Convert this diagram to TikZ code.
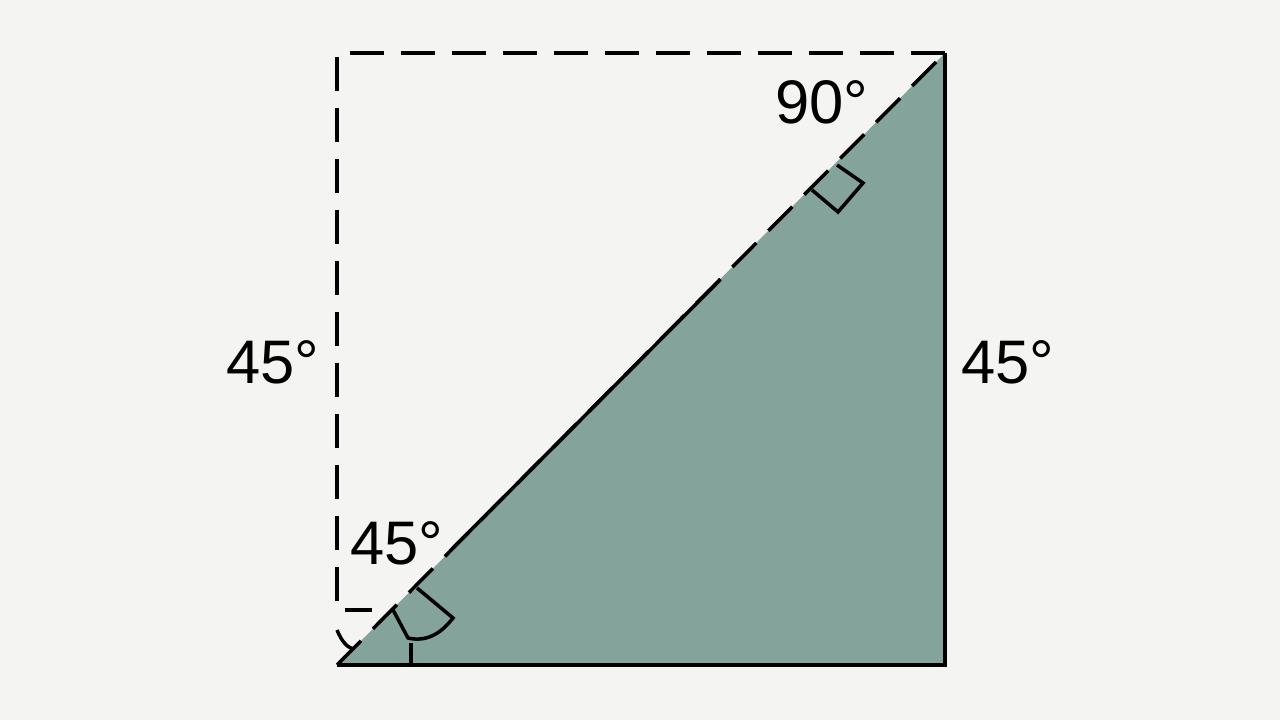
\documentclass[tikz,border=0pt]{standalone}
\usepackage{fontspec}
\setmainfont{Liberation Sans}
\usepackage{xcolor}
\usepackage{tikz}
\usetikzlibrary{positioning}
\definecolor{paper}{HTML}{F4F4F2}
\definecolor{sage}{HTML}{84A39B}
\tikzset{
    edge/.style={line width=1pt, black},
    guide/.style={line width=1pt, black, dash pattern=on 0.34cm off 0.17cm},
    angle/.style={font=\fontsize{17.5}{21}\selectfont, inner sep=0pt}
}

\begin{document}
\begin{tikzpicture}
    % 背景与边界
    \fill[paper] (0,0) rectangle (12.8,7.2);
    \useasboundingbox (0,0) rectangle (12.8,7.2);

    \coordinate (A) at (3.37,0.55);
    \coordinate (B) at (9.45,0.55);
    \coordinate (C) at (9.45,6.67);
    \coordinate (D) at (3.37,6.67);

    % 三角形
    \fill[sage] (A) -- (B) -- (C) -- cycle;
    \draw[edge] (A) -- (B) -- (C);
    \draw[guide] (A) -- (C);
    \draw[edge] (4.5,1.69) -- (7.2,4.4);

    % 虚线
    \draw[guide] (C) -- (D) -- (3.37,1.10) -- (3.72,1.10);
    \draw[edge] (3.37,0.90) .. controls (3.42,0.78) and (3.47,0.73) .. (3.53,0.71);

    % 角标记
    \draw[edge] (3.92,1.12) -- (4.08,0.82) .. controls (4.25,0.78) and (4.40,0.85) .. (4.53,1.02) -- (4.17,1.32);
    \draw[edge] (4.11,0.55) -- (4.11,0.77);
    \draw[edge] (8.12,5.30) -- (8.38,5.08) -- (8.63,5.37) -- (8.37,5.55);

    \node[angle] (left) at (2.73,3.58) {45°};
    \node[angle] (right) at (10.08,3.58) {45°};
    \node[angle] (top) at (8.22,6.18) {90°};
    \node[angle] (base) at (3.97,1.77) {45°};
\end{tikzpicture}
\end{document}
